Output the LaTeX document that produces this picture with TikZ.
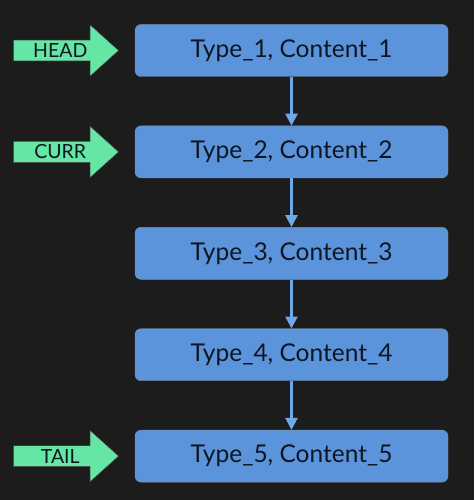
\documentclass[tikz,border=0pt]{standalone}
\usepackage{fontspec}
\setmainfont{Lato}
\usetikzlibrary{shapes.arrows, arrows.meta, positioning}
\definecolor{bg}{HTML}{1C1C1C}
\definecolor{boxblue}{HTML}{5B94DA}
\definecolor{boxline}{HTML}{7E8FA8}
\definecolor{ptrgreen}{HTML}{66E6A4}
\definecolor{linkblue}{HTML}{6FA8E8}
\definecolor{ink}{HTML}{0E1622}

\begin{document}
\begin{tikzpicture}[
    x=1pt, y=1pt,
    node distance=49pt and 16pt,
    elem/.style={draw=boxline, fill=boxblue, rounded corners=6pt, minimum width=313pt, minimum height=52pt, font=\fontsize{24.5}{28}\selectfont, text=ink},
    ptr/.style={single arrow, draw=black!70, fill=ptrgreen, minimum height=105pt, minimum width=51pt, single arrow head extend=12pt, single arrow tip angle=84, inner sep=1pt, font=\fontsize{19.5}{22}\selectfont, text=ink},
    link/.style={-{Triangle[length=12pt, width=12pt]}, draw=linkblue, line width=2.5pt},
]
\fill[bg] (0,0) rectangle (474,-500);
\useasboundingbox (0,0) rectangle (474,-500);

% list elements
\node[elem] (e1) at (291.5,-50.5) {Type\_1, Content\_1};
\node[elem, below=of e1] (e2) {Type\_2, Content\_2};
\node[elem, below=of e2] (e3) {Type\_3, Content\_3};
\node[elem, below=of e3] (e4) {Type\_4, Content\_4};
\node[elem, below=of e4] (e5) {Type\_5, Content\_5};

% links
\draw[link] (e1) -- (e2);
\draw[link] (e2) -- (e3);
\draw[link] (e3) -- (e4);
\draw[link] (e4) -- (e5);

% pointers
\node[ptr, left=of e1] (head) {HEAD};
\node[ptr, left=of e2] (curr) {CURR};
\node[ptr, left=of e5] (tail) {TAIL};

\end{tikzpicture}
\end{document}
